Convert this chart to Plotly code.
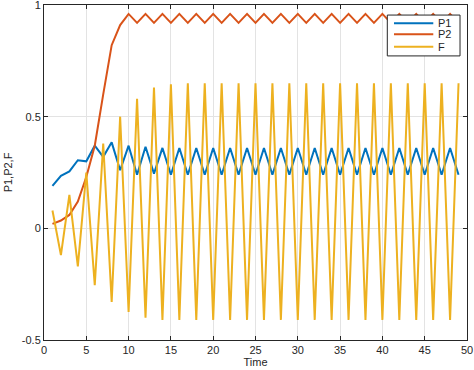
import plotly.graph_objects as go

time = list(range(1, 50))

p1_start = [0.19, 0.235, 0.255, 0.305, 0.30, 0.37, 0.32, 0.385, 0.26, 0.37, 0.24, 0.365, 0.245]
p1_cycle = [0.36, 0.24]  # even, odd
p2_start = [0.02, 0.035, 0.06, 0.12, 0.23, 0.37, 0.60, 0.82, 0.91, 0.96]
p2_cycle = [0.92, 0.96]  # odd, even
f_start = [0.08, -0.12, 0.15, -0.17, 0.25, -0.255, 0.38, -0.33, 0.50, -0.375,
           0.58, -0.40, 0.63, -0.41, 0.645, -0.41]
f_cycle = [0.65, -0.41]  # odd, even

# steady-state values (alternating levels)
P1 = p1_start + [p1_cycle[t % 2] for t in time[len(p1_start):]]
P2 = p2_start + [p2_cycle[(t + 1) % 2] for t in time[len(p2_start):]]
F = f_start + [f_cycle[(t + 1) % 2] for t in time[len(f_start):]]

series_names = ["P1", "P2", "F"]
series_colors = ["#0072BD", "#D95319", "#EDB120"]

x_ticks = [0, 5, 10, 15, 20, 25, 30, 35, 40, 45, 50]
y_ticks = [-0.5, 0, 0.5, 1]
y_labels = ["-0.5", "0", "0.5", "1"]

fig = go.Figure()
for name, vals, col in zip(series_names, [P1, P2, F], series_colors):
    fig.add_trace(go.Scatter(x=time, y=vals, mode="lines", name=name,
                             line=dict(color=col, width=2)))

axis_common = dict(
    showline=True, linecolor="#262626", linewidth=1, mirror="ticks",
    ticks="inside", ticklen=4, tickcolor="#262626",
    showgrid=True, gridcolor="#e3e3e3", gridwidth=1,
    zeroline=False, ticklabeloverflow="allow",
    tickfont=dict(family="Liberation Sans, Arial, sans-serif", size=11, color="#262626"),
)

# compact MATLAB-style legend box (paper coordinates)
leg_x0, leg_x1, leg_top, leg_bot = 0.8116, 0.9835, 0.970, 0.848
line_x0, line_x1, text_x = 0.8274, 0.9203, 0.926
row_y = [0.9454, 0.9125, 0.8755]
shapes = [dict(type="rect", xref="paper", yref="paper", x0=leg_x0, x1=leg_x1,
               y0=leg_bot, y1=leg_top, fillcolor="white",
               line=dict(color="#262626", width=1), layer="above")]
annotations = []
for name, col, yy in zip(series_names, series_colors, row_y):
    shapes.append(dict(type="line", xref="paper", yref="paper", x0=line_x0, x1=line_x1,
                       y0=yy, y1=yy, line=dict(color=col, width=2), layer="above"))
    annotations.append(dict(xref="paper", yref="paper", x=text_x, y=yy, text=name,
                            showarrow=False, xanchor="left", yanchor="middle",
                            font=dict(size=11, color="#262626")))

fig.update_layout(
    width=474, height=370,
    margin=dict(l=44, r=7, t=5, b=30, autoexpand=False),
    paper_bgcolor="white", plot_bgcolor="white",
    font=dict(family="Liberation Sans, Arial, sans-serif", size=11, color="#262626"),
    xaxis=dict(range=[0, 50], tickvals=x_ticks,
               title=dict(text="Time", standoff=0,
                          font=dict(size=11, color="#262626")),
               **axis_common),
    yaxis=dict(range=[-0.5, 1], tickvals=y_ticks, ticktext=y_labels,
               title=dict(text="P1,P2,F", standoff=6,
                          font=dict(size=11, color="#262626")),
               **axis_common),
    showlegend=False,
    shapes=shapes,
    annotations=annotations,
)

fig.write_html("out.html", config={"displayModeBar": False},
               post_script="document.body.style.margin='0';")
